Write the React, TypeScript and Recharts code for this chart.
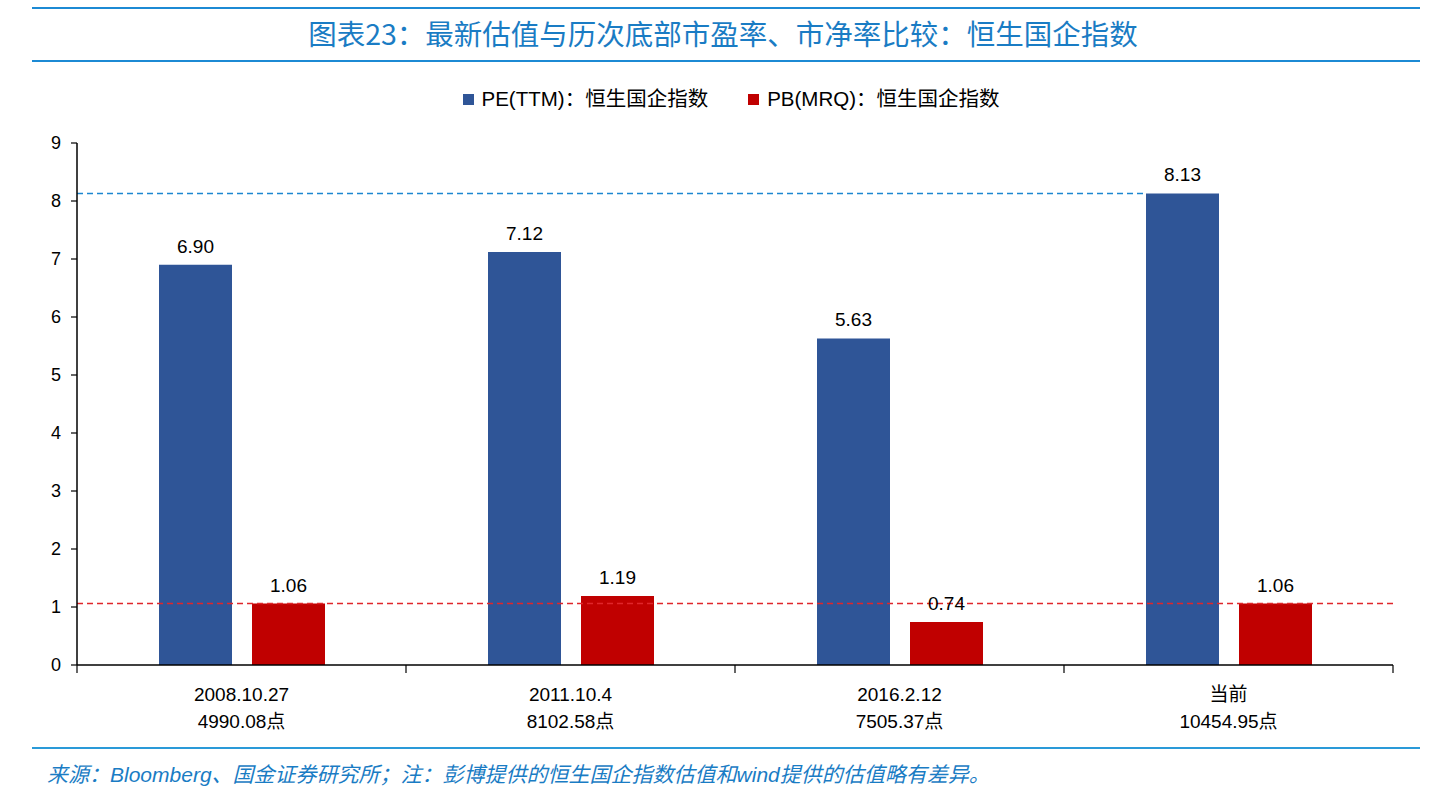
import React from 'react';
import { BarChart, Bar, XAxis, YAxis, ReferenceLine, LabelList } from 'recharts';

const categories = ['2008.10.27', '2011.10.4', '2016.2.12', '当前'];
const indexLevels = ['4990.08点', '8102.58点', '7505.37点', '10454.95点'];
const peValues = [6.9, 7.12, 5.63, 8.13];
const pbValues = [1.06, 1.19, 0.74, 1.06];
const yTicks = [0, 1, 2, 3, 4, 5, 6, 7, 8, 9];

const PE_NAME = 'PE(TTM)：恒生国企指数';
const PB_NAME = 'PB(MRQ)：恒生国企指数';
const TITLE = '图表23：最新估值与历次底部市盈率、市净率比较：恒生国企指数';
const SOURCE = '来源：Bloomberg、国金证券研究所；注：彭博提供的恒生国企指数估值和wind提供的估值略有差异。';

const data = categories.map((name, i) => ({
  name,
  level: indexLevels[i],
  pe: peValues[i],
  pb: pbValues[i],
}));

const latestPE = peValues[peValues.length - 1];
const latestPB = pbValues[pbValues.length - 1];

const BLUE = '#2F5597';
const RED = '#C00000';
const LINE_BLUE = '#1C86D0';
const FONT = '"Liberation Sans", "Noto Sans CJK SC", sans-serif';
const BAR_SIZE = 73;
const BAR_GAP = 20;

const XTick = (props: any) => {
  const { x, y, payload, index } = props;
  const half = payload.offset || 0;
  const row = data[index] || data.find((d) => d.name === payload.value);
  return (
    <g>
      <line x1={x - half} y1={y - 8} x2={x - half} y2={y} stroke="#000" strokeWidth={1.2} />
      {index === data.length - 1 && (
        <line x1={x + half} y1={y - 8} x2={x + half} y2={y} stroke="#000" strokeWidth={1.2} />
      )}
      <text x={x} y={y + 28} textAnchor="middle" fontSize={19} fill="#000" fontFamily={FONT}>
        {payload.value}
      </text>
      <text x={x} y={y + 55} textAnchor="middle" fontSize={19} fill="#000" fontFamily={FONT}>
        {row ? row.level : ''}
      </text>
    </g>
  );
};

// blue dashed line stops at the left edge of the last PE bar
const PeLine = (props: any) => {
  const { x1, x2, y1 } = props;
  const band = (x2 - x1) / data.length;
  const inner = (band - (2 * BAR_SIZE + BAR_GAP)) / 2;
  const end = x1 + band * (data.length - 1) + inner;
  return <line x1={x1} y1={y1} x2={end} y2={y1} stroke={LINE_BLUE} strokeWidth={1.5} strokeDasharray="6 4" />;
};

const fmt = (v: any) => Number(v).toFixed(2);

const App: React.FC = () => {
  return (
    <div style={{ position: 'absolute', left: 0, top: 0, width: 1440, height: 807, background: '#fff', fontFamily: FONT }}>
      <div style={{ position: 'absolute', left: 32, top: 7, width: 1388, height: 2, background: '#1C8AD4' }} />
      <div
        style={{
          position: 'absolute',
          left: 0,
          top: 13,
          width: 1446,
          textAlign: 'center',
          fontSize: 28.5,
          color: '#1A7CC4',
          fontFamily: '"Noto Sans CJK SC", sans-serif',
          lineHeight: '40px',
        }}
      >
        {TITLE}
      </div>
      <div style={{ position: 'absolute', left: 32, top: 60, width: 1388, height: 2, background: '#1C8AD4' }} />

      <div
        style={{
          position: 'absolute',
          top: 85,
          left: 0,
          width: 1462,
          display: 'flex',
          justifyContent: 'center',
          gap: 40,
          fontSize: 20.5,
          color: '#000',
          lineHeight: '28px',
        }}
      >
        {[
          { name: PE_NAME, color: BLUE },
          { name: PB_NAME, color: RED },
        ].map((item) => (
          <div key={item.name} style={{ display: 'flex', alignItems: 'center' }}>
            <span style={{ display: 'inline-block', width: 11, height: 11, background: item.color, marginRight: 8 }} />
            <span>{item.name}</span>
          </div>
        ))}
      </div>

      <div style={{ position: 'absolute', left: 0, top: 0 }}>
        <BarChart
          width={1440}
          height={807}
          data={data}
          margin={{ top: 143, right: 47, left: 17, bottom: 72 }}
          barGap={BAR_GAP}
          barSize={BAR_SIZE}
        >
          <XAxis
            dataKey="name"
            height={70}
            tickLine={false}
            axisLine={{ stroke: '#000', strokeWidth: 1.5 }}
            tick={<XTick />}
            interval={0}
          />
          <YAxis
            width={60}
            domain={[0, 9]}
            ticks={yTicks}
            interval={0}
            tickSize={6}
            tickMargin={10}
            axisLine={{ stroke: '#000', strokeWidth: 1.5 }}
            tickLine={{ stroke: '#000', strokeWidth: 1.2 }}
            tick={{ fontSize: 18, fill: '#000', fontFamily: FONT }}
          />
          <ReferenceLine y={latestPE} shape={<PeLine />} />
          <Bar dataKey="pe" name={PE_NAME} fill={BLUE} isAnimationActive={false}>
            <LabelList dataKey="pe" position="top" offset={12} formatter={fmt} fontSize={19} fill="#000" fontFamily={FONT} />
          </Bar>
          <Bar dataKey="pb" name={PB_NAME} fill={RED} isAnimationActive={false}>
            <LabelList dataKey="pb" position="top" offset={12} formatter={fmt} fontSize={19} fill="#000" fontFamily={FONT} />
          </Bar>
          <ReferenceLine y={latestPB} stroke="#E0262B" strokeWidth={1.5} strokeDasharray="6 4" />
        </BarChart>
      </div>

      <div style={{ position: 'absolute', left: 32, top: 747, width: 1388, height: 2, background: '#2A9AD8' }} />
      <div
        style={{
          position: 'absolute',
          left: 47,
          top: 760,
          fontSize: 21,
          fontStyle: 'italic',
          color: '#1A7CC4',
          lineHeight: '30px',
          whiteSpace: 'nowrap',
        }}
      >
        {SOURCE}
      </div>
    </div>
  );
};

export default App;
